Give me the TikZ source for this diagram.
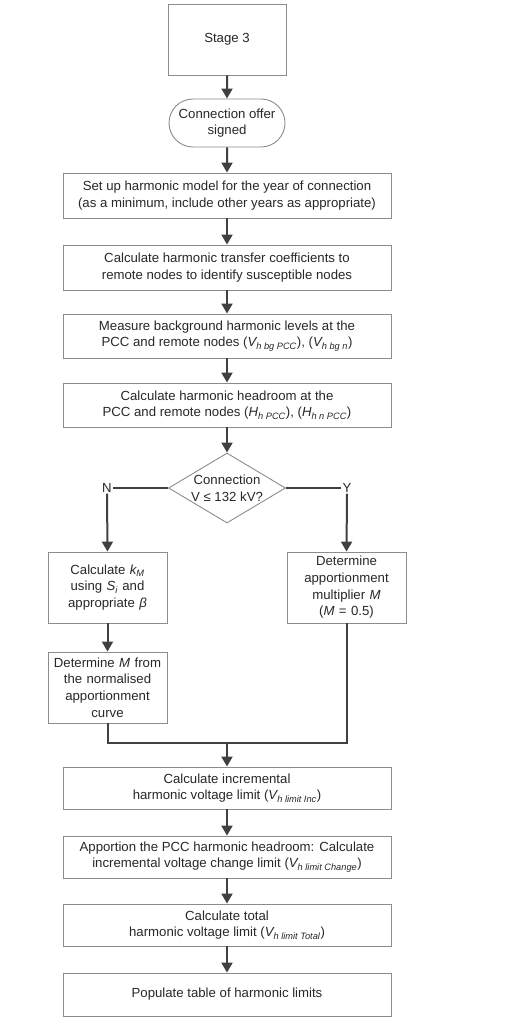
\documentclass[tikz,border=0pt]{standalone}
\usepackage{fontspec}
\setmainfont{Liberation Sans}
\usetikzlibrary{arrows.meta,shapes.geometric,shapes.misc}
\definecolor{boxgrey}{RGB}{140,140,140}
\definecolor{arrowgrey}{RGB}{64,64,64}
\definecolor{textgrey}{RGB}{40,40,40}

\begin{document}
\begin{tikzpicture}[x=1pt,y=-1pt,
    txt/.style={text=textgrey, font=\fontsize{13.2}{16.7}\selectfont, align=center},
    stepbox/.style={txt, draw=boxgrey, line width=0.9pt, fill=white, inner sep=2pt, minimum width=328pt, minimum height=44pt},
    sidebox/.style={stepbox, minimum width=119pt, minimum height=71pt, text width=114pt},
    endbox/.style={txt, draw=boxgrey, line width=0.9pt, fill=white, rounded rectangle, minimum width=118pt, minimum height=48pt, inner sep=1pt},
    decision/.style={txt, draw=boxgrey, line width=0.9pt, fill=white, diamond, aspect=1.67, inner sep=-5pt, minimum width=117pt, minimum height=70pt},
    flow/.style={draw=arrowgrey, line width=2pt, -{Triangle[width=11pt,length=10pt]}},
    branch/.style={draw=arrowgrey, line width=1.4pt}]
  \useasboundingbox (0,0) rectangle (507,1024);
  % main column
  \node[stepbox, minimum width=118pt, minimum height=71pt] (stage) at (227,39.5) {Stage 3};
  \node[endbox] (offer) at (227,123) {Connection offer\\signed};
  \node[stepbox, minimum height=45pt] (model) at (227,195.5)
    {Set up harmonic model for the year of connection\\(as a minimum, include other years as appropriate)};
  \node[stepbox, minimum height=45pt] (transfer) at (227,267.5)
    {Calculate harmonic transfer coefficients to\\remote nodes to identify susceptible nodes};
  \node[stepbox] (measure) at (227,336)
    {Measure background harmonic levels at the\\PCC and remote nodes (\textit{V\textsubscript{h bg PCC}}), (\textit{V\textsubscript{h bg n}})};
  \node[stepbox] (headroom) at (227,405)
    {Calculate harmonic headroom at the\\PCC and remote nodes (\textit{H\textsubscript{h PCC}}), (\textit{H\textsubscript{h n PCC}})};
  \node[decision] (volt) at (227,488) {Connection\\V ≤ 132 kV?};
  % branches
  \node[txt, inner sep=1pt] (nlab) at (107,488) {N};
  \node[txt, inner sep=1pt] (ylab) at (347,488) {Y};
  \node[sidebox] (calck) at (107.5,587.5)
    {Calculate \textit{k\textsubscript{M}}\\using \textit{S\textsubscript{i}} and\\appropriate \textit{β}};
  \node[sidebox] (detm) at (107.5,687.5)
    {Determine \textit{M} from\\the normalised\\apportionment\\curve};
  \node[sidebox] (multm) at (346.5,587.5)
    {Determine\\apportionment\\multiplier \textit{M}\\(\textit{M} = 0.5)};
  \coordinate (merge) at (227,743);
  % lower column
  \node[stepbox, minimum height=42pt] (inc) at (227,788)
    {Calculate incremental\\harmonic voltage limit (\textit{V\textsubscript{h limit Inc}})};
  \node[stepbox, minimum height=42pt] (change) at (227,857)
    {Apportion the PCC harmonic headroom: Calculate\\incremental voltage change limit (\textit{V\textsubscript{h limit Change}})};
  \node[stepbox, minimum height=42pt] (total) at (227,925)
    {Calculate total\\harmonic voltage limit (\textit{V\textsubscript{h limit Total}})};
  \node[stepbox, minimum height=43pt] (populate) at (227,994.5)
    {Populate table of harmonic limits};
  % connectors
  \draw[flow] (stage) -- (offer);
  \draw[flow] (offer) -- (model);
  \draw[flow] (model) -- (transfer);
  \draw[flow] (transfer) -- (measure);
  \draw[flow] (measure) -- (headroom);
  \draw[flow] (headroom) -- (volt);
  \draw[branch] (volt.west) -- (nlab.east);
  \draw[branch] (volt.east) -- (ylab.west);
  \draw[flow] (nlab.south) -- (calck.north);
  \draw[flow] (ylab.south) -- (multm.north);
  \draw[flow] (calck) -- (detm);
  \draw[draw=arrowgrey, line width=2pt] (detm.south) |- (merge) -| (multm.south);
  \draw[flow] (merge) -- (inc);
  \draw[flow] (inc) -- (change);
  \draw[flow] (change) -- (total);
  \draw[flow] (total) -- (populate);
\end{tikzpicture}
\end{document}
